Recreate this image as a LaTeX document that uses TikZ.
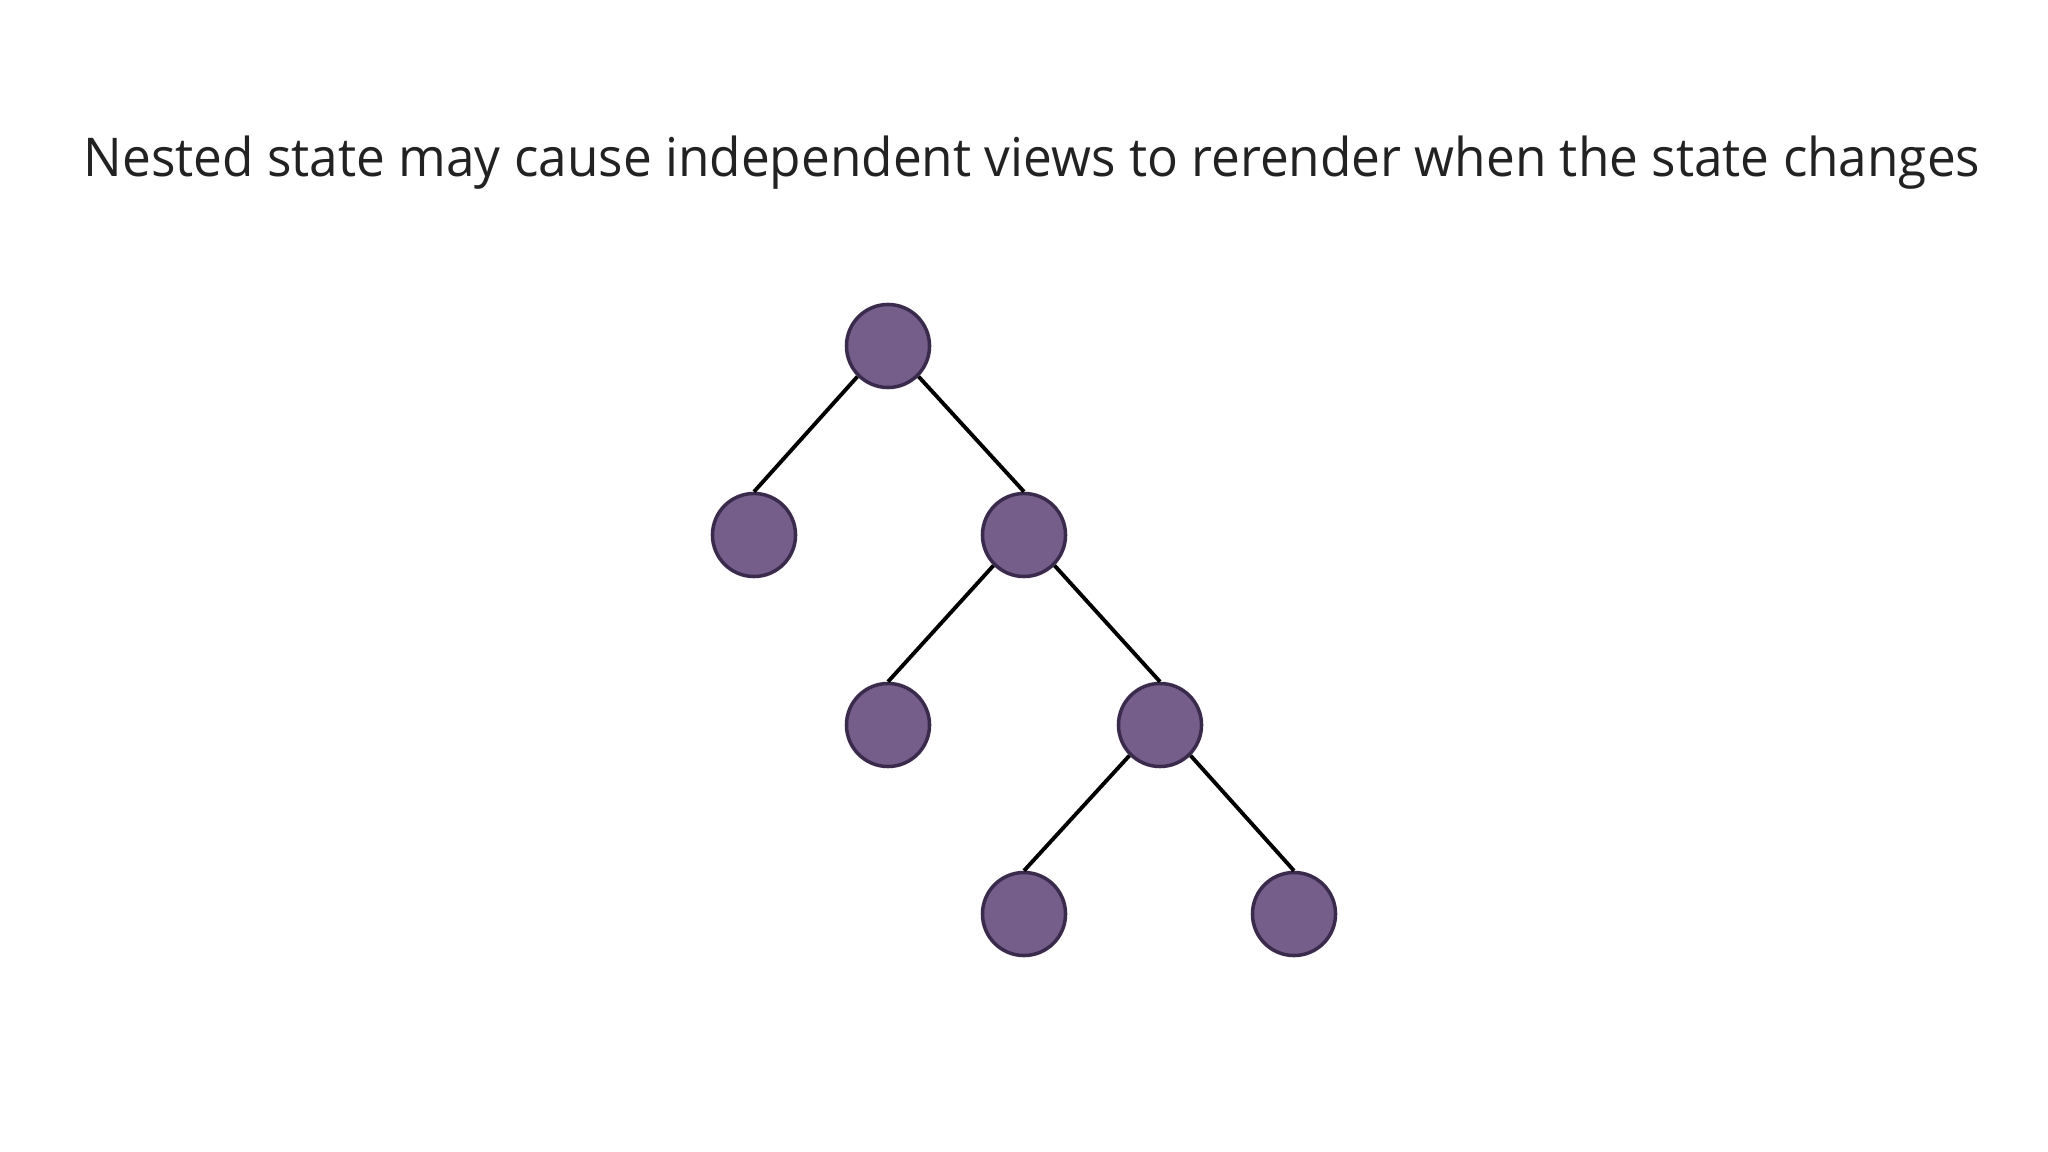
\documentclass[tikz,border=0pt]{standalone}
\usepackage{fontspec}
\setmainfont{Open Sans}
\definecolor{nodefill}{RGB}{118,94,138}
\definecolor{nodeline}{RGB}{58,42,76}
\definecolor{titlecol}{RGB}{34,34,34}
\begin{document}
\begin{tikzpicture}[x=0.01cm,y=-0.01cm,
  treenode/.style={circle,minimum size=0.83cm,inner sep=0pt,fill=nodefill,draw=nodeline,line width=1pt},
  edge/.style={draw=black,line width=1.1pt}]
\useasboundingbox (0,0) rectangle (2048,1152);
\node[text=titlecol,font=\fontsize{15.2}{18}\selectfont,anchor=base,xscale=0.96,transform shape] (title) at (1032,177) {Nested state may cause independent views to rerender when the state changes};
\node[treenode] (r) at (888,346) {};
\node[treenode] (a) at (754,535) {};
\node[treenode] (b) at (1024,535) {};
\node[treenode] (c) at (888,725) {};
\node[treenode] (d) at (1160,725) {};
\node[treenode] (e) at (1024,914) {};
\node[treenode] (f) at (1294,914) {};
\draw[edge] (r.south west) -- (a.north);
\draw[edge] (r.south east) -- (b.north);
\draw[edge] (b.south west) -- (c.north);
\draw[edge] (b.south east) -- (d.north);
\draw[edge] (d.south west) -- (e.north);
\draw[edge] (d.south east) -- (f.north);
\end{tikzpicture}
\end{document}
